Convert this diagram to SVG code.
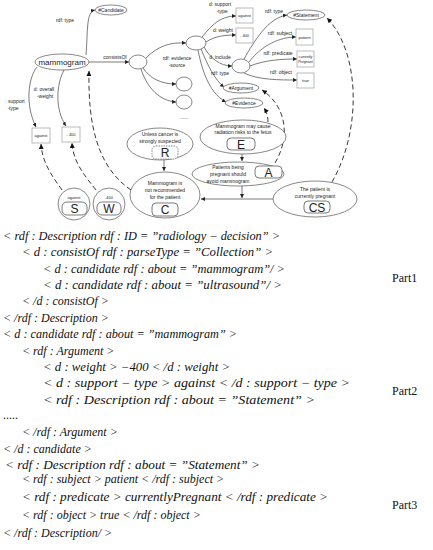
<svg xmlns="http://www.w3.org/2000/svg" width="433" height="550" viewBox="0 0 433 550">
<style>
.n{fill:#fff;stroke:#555;stroke-width:0.7}
.b{fill:#fff;stroke:#aaa;stroke-width:0.8}
.ib{fill:#fff;stroke:#444;stroke-width:0.7}
.e{fill:none;stroke:#444;stroke-width:0.7}
.d{fill:none;stroke:#222;stroke-width:0.9;stroke-dasharray:5 3}
.t{font-family:"Liberation Sans",Arial,sans-serif;fill:#222;text-anchor:middle}
.s{font-size:5px}
.xs{font-size:4px}
.L{font-size:12px}
.code{font-family:"Liberation Serif","Times New Roman",serif;font-style:italic;font-size:12px;fill:#111}
.part{font-family:"Liberation Serif","Times New Roman",serif;font-size:12px;fill:#111}
</style>
<defs>
<marker id="a" viewBox="0 0 6 6" refX="6" refY="3" markerWidth="4" markerHeight="4" orient="auto" markerUnits="userSpaceOnUse"><path d="M0,0 L6,3 L0,6 z" fill="#222"/></marker>
<marker id="ad" viewBox="0 0 6 6" refX="6" refY="3" markerWidth="5" markerHeight="5" orient="auto" markerUnits="userSpaceOnUse"><path d="M0,0 L6,3 L0,6 z" fill="#111"/></marker>
</defs>
<rect width="433" height="550" fill="#fff"/>

<g id="connectors">
<path class="e" d="M86 55 C88 30 86 12 95 10" marker-end="url(#a)"/>
<text class="t s" x="65" y="22">rdf: type</text>
<path class="e" d="M89 62 L129 62" marker-end="url(#a)"/>
<text class="t s" x="115" y="59">consistsOf</text>
<path class="e" d="M146 58 C158 46 170 42 186 43" marker-end="url(#a)"/>
<path class="e" d="M143 68 C150 78 160 84 176 84" marker-end="url(#a)"/>
<path class="e" d="M141 69 C147 88 160 101 176 102" marker-end="url(#a)"/>
<text class="t s" x="177" y="60">rdf: evidence</text>
<text class="t s" x="177" y="67">-source</text>
<path class="e" d="M202 37 C212 25 220 16 236 16" marker-end="url(#a)"/>
<text class="t s" x="220" y="6">d: support</text>
<text class="t s" x="222" y="13">-type</text>
<path class="e" d="M206 42 C215 36 225 35 236 35" marker-end="url(#a)"/>
<text class="t s" x="223" y="32">d: weight</text>
<path class="e" d="M204 47 C210 58 220 66 232 66" marker-end="url(#a)"/>
<text class="t s" x="220" y="59">d: include</text>
<path class="e" d="M201 49 C208 66 215 80 224 87" marker-end="url(#a)"/>
<text class="t s" x="220" y="75">rdf: type</text>
<path class="e" d="M198 50 C203 76 212 95 226 102" marker-end="url(#a)"/>
<path class="e" d="M244 59 C255 40 268 18 287 15" marker-end="url(#a)"/>
<text class="t s" x="274" y="13">rdf: type</text>
<path class="e" d="M249 62 C262 45 280 37 296 37" marker-end="url(#a)"/>
<text class="t s" x="280" y="35">rdf: subject</text>
<path class="e" d="M250 66 C265 60 282 59 297 59" marker-end="url(#a)"/>
<text class="t s" x="278" y="55">rdf: predicate</text>
<path class="e" d="M244 73 C258 80 280 80 297 80" marker-end="url(#a)"/>
<text class="t s" x="281" y="74">rdf: object</text>
<path class="e" d="M37 67 C28 78 25 105 36 127" marker-end="url(#a)"/>
<text class="t s" x="15" y="103">: support</text>
<text class="t s" x="13" y="110">-type</text>
<path class="e" d="M64 70 C56 85 55 110 66 126" marker-end="url(#a)"/>
<text class="t s" x="44" y="91">d: overall</text>
<text class="t s" x="45" y="98">-weight</text>

<path class="e" d="M164 160 L164 171" marker-end="url(#a)"/>
<path class="e" d="M242 154 L242 161" marker-end="url(#a)"/>
<path class="e" d="M273 199 L201 199" marker-end="url(#a)"/>
<path class="e" d="M242 186 L242 198" marker-end="url(#a)"/>

<path class="d" d="M62 190 C52 176 42 162 41 144" marker-end="url(#ad)"/>
<path class="d" d="M96 190 C85 176 73 162 72 143" marker-end="url(#ad)"/>
<path class="d" d="M131 190 C96 166 88 122 89 71" marker-end="url(#ad)"/>
<path class="d" d="M268 122 C268 115 266 111 264 108" marker-end="url(#ad)"/>
<path class="d" d="M275 163 C291 136 286 106 262 90" marker-end="url(#ad)"/>
<path class="d" d="M332 182 C362 130 360 52 327 18" marker-end="url(#ad)"/>
</g>

<g id="mammogram"><ellipse class="n" cx="62" cy="62" rx="27" ry="8"/><text class="t" font-size="8" x="62" y="65">mammogram</text></g>
<g id="candidate"><ellipse class="n" cx="111" cy="10" rx="16" ry="5"/><text class="t s" x="111" y="12">#Candidate</text></g>
<g id="collection"><ellipse class="n" cx="138" cy="62" rx="9" ry="7"/></g>
<g id="candidate-node"><ellipse class="n" cx="196" cy="43" rx="10" ry="7"/></g>
<g id="evidence-source-1"><ellipse class="n" cx="184" cy="84" rx="8" ry="7"/></g>
<g id="evidence-source-2"><ellipse class="n" cx="184" cy="102" rx="8" ry="7"/><text class="t s" x="184" y="119">......</text></g>
<g id="statement-node"><ellipse class="n" cx="241" cy="66" rx="9" ry="7"/></g>

<g id="against-top"><rect class="b" x="236" y="8" width="17" height="15"/><text class="t xs" x="244.5" y="17">against</text></g>
<g id="weight-top"><rect class="b" x="236" y="28" width="17" height="15"/><text class="t xs" x="244.5" y="37">- 400</text></g>
<g id="patient"><rect class="b" x="296" y="29" width="17" height="16"/><text class="t xs" x="304.5" y="38.5">patient</text></g>
<g id="currentlyPregnant"><rect class="b" x="297" y="51" width="17" height="16"/><text class="t" font-size="3.6" x="305.5" y="58">currently</text><text class="t" font-size="3.6" x="305.5" y="63">Pregnant</text></g>
<g id="true"><rect class="b" x="297" y="73" width="17" height="15"/><text class="t xs" x="305.5" y="82">true</text></g>
<g id="against-left"><rect class="b" x="32" y="128" width="18" height="15"/><text class="t xs" x="41" y="137">against</text></g>
<g id="weight-left"><rect class="b" x="62" y="127" width="18" height="15"/><text class="t xs" x="71" y="136">- 400</text></g>

<g id="statement"><ellipse class="n" cx="306" cy="15" rx="19" ry="5"/><text class="t s" x="306" y="17">#Statement</text></g>
<g id="argument"><ellipse class="n" cx="241" cy="88" rx="18" ry="5"/><text class="t s" x="241" y="90">#Argument</text></g>
<g id="evidence"><ellipse class="n" cx="244" cy="103" rx="19" ry="5"/><text class="t s" x="244" y="105">#Evidence</text></g>

<g id="R"><ellipse class="n" cx="160" cy="144" rx="33" ry="16"/><text class="t s" x="160" y="135.5">Unless cancer is</text><text class="t s" x="160" y="142.5">strongly suspected</text><rect x="152" y="146" width="26" height="13" rx="4" fill="#fff" stroke="#555" stroke-width="0.7" stroke-dasharray="1.5 1"/><text class="t L" x="165" y="157">R</text></g>
<g id="C"><ellipse class="n" cx="165" cy="195" rx="35" ry="23"/><text class="t s" x="165" y="185">Mammogram is</text><text class="t s" x="165" y="192">not recommended</text><text class="t s" x="165" y="199">for the patient</text><rect class="ib" x="152" y="203" width="26" height="13" rx="4"/><text class="t L" x="165" y="214">C</text></g>
<g id="E"><ellipse class="n" cx="243" cy="137" rx="43" ry="17"/><text class="t s" x="243" y="127.5">Mammogram may cause</text><text class="t s" x="243" y="134">radiation risks to the fetus</text><rect class="ib" x="227" y="138" width="28" height="12" rx="4"/><text class="t L" x="241" y="148.5">E</text></g>
<g id="A"><ellipse class="n" cx="238" cy="174" rx="46" ry="12"/><text class="t s" x="228" y="168.5">Patients being</text><text class="t s" x="228" y="175.5">pregnant should</text><text class="t s" x="228" y="182.5">avoid mammogram</text><rect class="ib" x="255" y="166" width="27" height="12" rx="4"/><text class="t L" x="268.5" y="176.5">A</text></g>
<g id="CS"><ellipse class="n" cx="315" cy="199" rx="42" ry="18"/><text class="t s" x="315" y="191">The patient is</text><text class="t s" x="315" y="197.5">currently pregnant</text><rect class="ib" x="304" y="201" width="26" height="12" rx="4"/><text class="t L" x="317" y="211.5">CS</text></g>
<g id="S"><circle class="n" cx="74" cy="204" r="16"/><text class="t xs" x="74" y="199">against</text><rect class="ib" x="62" y="202" width="25" height="13" rx="5"/><text class="t L" x="74.5" y="213">S</text></g>
<g id="W"><circle class="n" cx="109" cy="204" r="16"/><text class="t xs" x="109" y="199">-400</text><rect class="ib" x="97" y="202" width="24" height="13" rx="5"/><text class="t L" x="109" y="213">W</text></g>

<g id="code">
<text class="code" x="3" y="240" textLength="277" lengthAdjust="spacingAndGlyphs">&lt; rdf : Description rdf : ID = ”radiology − decision” &gt;</text>
<text class="code" x="22" y="256" textLength="251" lengthAdjust="spacingAndGlyphs">&lt; d : consistOf rdf : parseType = ”Collection” &gt;</text>
<text class="code" x="43" y="272.5" textLength="242" lengthAdjust="spacingAndGlyphs">&lt; d : candidate rdf : about = ”mammogram”/ &gt;</text>
<text class="code" x="43" y="289" textLength="239" lengthAdjust="spacingAndGlyphs">&lt; d : candidate rdf : about = ”ultrasound”/ &gt;</text>
<text class="code" x="22" y="305">&lt; /d : consistOf &gt;</text>
<text class="code" x="3" y="321.5">&lt; /rdf : Description &gt;</text>
<text class="code" x="3" y="338" textLength="234" lengthAdjust="spacingAndGlyphs">&lt; d : candidate rdf : about = ”mammogram” &gt;</text>
<text class="code" x="22" y="354.5">&lt; rdf : Argument &gt;</text>
<text class="code" x="43" y="371" textLength="187" lengthAdjust="spacingAndGlyphs">&lt; d : weight &gt; −400 &lt; /d : weight &gt;</text>
<text class="code" x="43" y="387" textLength="307" lengthAdjust="spacingAndGlyphs">&lt; d : support − type &gt; against &lt; /d : support − type &gt;</text>
<text class="code" x="43" y="403.5" textLength="272" lengthAdjust="spacingAndGlyphs">&lt; rdf : Description rdf : about = ”Statement” &gt;</text>
<text class="part" x="3" y="419">.....</text>
<text class="code" x="22" y="436">&lt; /rdf : Argument &gt;</text>
<text class="code" x="3" y="453">&lt; /d : candidate &gt;</text>
<text class="code" x="5" y="468.5" textLength="255" lengthAdjust="spacingAndGlyphs">&lt; rdf : Description rdf : about = ”Statement” &gt;</text>
<text class="code" x="22" y="482.5">&lt; rdf : subject &gt; patient &lt; /rdf : subject &gt;</text>
<text class="code" x="22" y="501" textLength="306" lengthAdjust="spacingAndGlyphs">&lt; rdf : predicate &gt; currentlyPregnant &lt; /rdf : predicate &gt;</text>
<text class="code" x="22" y="519">&lt; rdf : object &gt; true &lt; /rdf : object &gt;</text>
<text class="code" x="3" y="537">&lt; /rdf : Description/ &gt;</text>
<text class="part" x="392" y="282">Part1</text>
<text class="part" x="392" y="395">Part2</text>
<text class="part" x="392" y="509">Part3</text>
</g>
</svg>
